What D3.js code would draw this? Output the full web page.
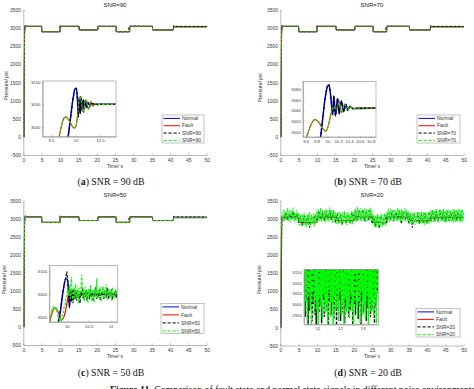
<!DOCTYPE html>
<html>
<head>
<meta charset="utf-8">
<script src="https://cdn.jsdelivr.net/npm/d3@7"></script>
<style>
  body { margin: 0; background: #fff; }
  svg { display: block; }
</style>
</head>
<body>
<svg id="fig" width="474" height="389"></svg>
<script>
// ---------------- data (time in s, pressure in psi) ----------------
const mainXTicks = [0, 5, 10, 15, 20, 25, 30, 35, 40, 45, 50];
const mainYTicks = [-500, 0, 500, 1000, 1500, 2000, 2500, 3000, 3500];

// step profile seen in the large plots
const stepTime    = [0.2, 0.25, 0.35, 0.5, 0.9, 5.0, 5.05, 10.0, 10.05, 15.2, 15.25, 20.3, 20.35, 25.3, 25.35, 29.0, 29.05, 35.2, 35.25, 40.9, 40.95, 50];
const normalStep  = [0, 1500, 2900, 3075, 3050, 3050, 2900, 2900, 3050, 3050, 2950, 2950, 3050, 3050, 2900, 2900, 3050, 3050, 2950, 2950, 3045, 3045];
const faultStep   = [0, 1500, 2900, 3075, 3050, 3050, 2900, 2900, 3050, 3050, 2950, 2950, 3050, 3050, 2900, 2900, 3050, 3050, 2950, 2950, 3028, 3028];
const snrGreenStep = [0, 1500, 2900, 3075, 3050, 3050, 2900, 2900, 3050, 3050, 2950, 2950, 3050, 3050, 2900, 2900, 3050, 3050, 2950, 2950, 3028, 3028];
const snrStepTime  = [0.2, 0.25, 0.35, 0.5, 0.9, 5.0, 5.05, 10.0, 10.02, 10.08, 10.2, 15.2, 15.25, 20.3, 20.35, 25.3, 25.35, 28.7, 28.75, 29.1, 29.15, 35.2, 35.25, 40.9, 40.95, 41.15, 41.3, 50];
const snrBlackStep = [0, 1500, 2900, 3075, 3050, 3050, 2900, 2900, 3090, 3030, 3050, 3050, 2950, 2950, 3050, 3050, 2900, 2900, 3010, 3010, 3060, 3050, 2950, 2950, 3070, 3060, 3048, 3048];

// SNR=20 large plot, sampled every 0.25 s (green) and 0.5 s (black)
const snr20GreenStart = 0, snr20GreenStep = 0.25;
const snr20Green = [
  0,2650,3170,2950,3260,2920,3200,2970,3290,2940,3220,2900,3240,2980,3310,2930,3180,2890,3250,2960,
  3150,2820,3120,2790,3130,2840,3160,2810,3100,2760,3140,2830,3180,2800,3110,2850,3150,2780,3130,2860,
  3270,2920,3230,2950,3300,2910,3250,2960,3220,2900,3280,2940,3240,2920,3310,2970,3230,2890,3260,2950,
  3190,2860,3170,2840,3200,2870,3150,2820,3180,2880,3210,2850,3160,2830,3190,2890,3140,2860,3220,2840,
  3190,2950,3280,2920,3330,2960,3260,2930,3300,2940,3240,2970,3290,2910,3270,2950,3250,2930,3310,2960,
  3220,2840,3110,2760,3100,2790,3140,2740,3080,2810,3130,2770,3120,2820,3160,2800,3190,2940,3260,2920,
  3290,2950,3240,2910,3280,2960,3230,2930,3300,2940,3250,2900,3270,2960,3220,2920,3290,2950,3250,2930,
  3200,2860,3180,2850,3150,2880,3190,2830,3170,2870,3200,2840,3160,2890,3210,2860,3180,2830,3190,2870,
  3170,2850,3200,2880,3240,2910,3250,2920,3230,2900,3270,2930,3220,2890,3260,2940,3240,2910,3280,2920,
  3230,2900,3250,2950,3260,2910,3240,2930,3270,2900,3230,2920,3250,2910,3280,2940,3240,2900,3260,2930,
  3220];
const snr20BlackStart = 0, snr20BlackStep = 0.5;
const snr20Black = [
  0,3050,2980,3180,2950,3150,3000,3200,2960,3170,
  2900,3050,2800,3080,2850,3100,2760,3060,2860,3110,
  2960,3230,2980,3180,2930,3210,2990,3240,2950,3190,
  2880,3140,2900,3120,2850,3160,2890,3130,2870,3170,
  2980,3250,2960,3220,2990,3260,2940,3210,2970,3240,
  2860,3060,2780,3090,2740,3070,2820,3110,2900,3200,
  2970,3220,2940,3190,2990,3230,2860,3210,2970,3180,
  2880,3150,2760,3140,2890,3170,2860,3120,2900,3160,
  2870,3190,2940,3230,2950,3200,2920,3240,2960,3210,
  2930,3220,2950,3190,2970,3250,2940,3200,2960,3230,
  3180];

// inset (a) SNR=90
const insetANormT  = [9.33, 9.75, 9.85, 9.9, 9.95, 9.99, 10.02, 10.04, 10.06, 10.08, 10.1, 10.12, 10.14, 10.16, 10.18, 10.2, 10.23, 10.26, 10.3, 10.34, 10.4, 10.83];
const insetANorm   = [2900, 2930, 2978, 3020, 3062, 3084, 3086, 3062, 3022, 3066, 3030, 3064, 3036, 3060, 3040, 3057, 3043, 3054, 3047, 3052, 3050, 3050];
const insetAFaultT = [9.33, 9.6, 9.68, 9.74, 9.8, 9.86, 9.92, 9.97, 10.01, 10.05, 10.08, 10.11, 10.14, 10.17, 10.2, 10.23, 10.26, 10.29, 10.32, 10.36, 10.4, 10.45, 10.5, 10.83];
const insetAFault  = [2900, 2940, 2985, 3013, 3022, 3016, 3004, 2997, 3001, 3032, 3062, 3068, 3040, 3032, 3060, 3058, 3040, 3044, 3056, 3046, 3052, 3049, 3050, 3050];

// inset (b) SNR=70
const insetBNormT  = [9.55, 9.8, 9.876, 9.92, 9.96, 10.0, 10.03, 10.06, 10.1, 10.12, 10.15, 10.19, 10.22, 10.26, 10.3, 10.34, 10.38, 10.42, 10.47, 10.9];
const insetBNorm   = [2900, 2950, 2991, 3030, 3064, 3085, 3089, 3070, 3032, 3068, 3030, 3063, 3034, 3058, 3038, 3052, 3041, 3048, 3044, 3045];
const insetBFaultT = [9.55, 9.63, 9.7, 9.77, 9.84, 9.9, 9.97, 10.02, 10.07, 10.12, 10.17, 10.22, 10.26, 10.32, 10.37, 10.42, 10.47, 10.55, 10.9];
const insetBFault  = [2975, 2994, 3014, 3023, 3018, 3008, 3001, 3012, 3035, 3048, 3042, 3058, 3036, 3052, 3040, 3048, 3043, 3045, 3045];

// inset (c) SNR=50
const insetCNormT  = [9.6, 9.8, 9.85, 9.92, 9.98, 10.02, 10.06, 10.08, 10.11, 10.14, 10.18, 10.22, 10.27, 10.32, 10.4, 11.15];
const insetCNorm   = [2900, 2985, 3010, 3060, 3085, 3080, 3020, 3060, 3035, 3058, 3042, 3054, 3046, 3051, 3049, 3050];
const insetCFaultT = [9.6, 9.65, 9.73, 9.8, 9.88, 9.95, 10.02, 10.07, 10.12, 10.17, 10.22, 10.27, 10.33, 10.4, 10.5, 11.15];
const insetCFault  = [2985, 3005, 3020, 3012, 2994, 3005, 3040, 3062, 3045, 3040, 3055, 3045, 3052, 3048, 3050, 3050];
const insetCNoiseStart = 9.6, insetCNoiseStep = 0.02;
const insetCBlack = [
  2900,2906,2913,2921,2930,2940,2950,2958,2967,2976,
  2986,2996,3007,3021,3036,3049,3062,3072,3081,3090,
  3100,3078,3048,3022,3060,3034,3058,3030,3062,3040,
  3055,3035,3060,3042,3050,3030,3058,3046,3064,3038,
  3052,3044,3060,3036,3056,3048,3040,3062,3045,3053,
  3034,3058,3047,3065,3040,3052,3044,3060,3036,3055,
  3048,3062,3038,3050,3057,3042,3064,3046,3040,3056,
  3045,3060,3038,3052,3047,3058,3041,3050];
const insetCGreen = [
  2984,2997,3004,3016,3015,3024,3019,3023,3012,3013,
  3001,3000,2990,2996,2992,3006,3007,3024,3026,3044,
  3046,3062,3048,3070,3040,3088,3050,3034,3066,3042,
  3072,3038,3058,3030,3064,3046,3056,3092,3040,3060,
  3034,3066,3045,3058,3030,3062,3048,3070,3036,3055,
  3060,3032,3064,3044,3085,3040,3058,3050,3066,3034,
  3052,3068,3040,3060,3046,3072,3038,3056,3062,3044,
  3058,3036,3066,3048,3054,3040,3062,3050];

// inset (d) SNR=20
const insetDNormT  = [10.4, 13.69];
const insetDNorm   = [3050, 3050];
const insetDFault  = [3050, 3050];
const insetDNoiseStart = 10.4, insetDNoiseStep = 0.03;
const insetDGreen = [
  3210,2960,3280,3010,3190,2920,3250,3040,3300,2980,
  3170,2900,3230,3060,3270,2950,3200,3020,3310,2970,
  3180,2890,3240,3030,3290,2990,3160,2930,3260,3050,
  3220,2960,3300,3000,3190,2910,3250,3070,3280,2940,
  3210,3010,3170,2880,3240,3040,3320,2970,3200,2990,
  3260,2920,3180,3060,3290,2950,3230,3000,3150,2900,
  3270,3030,3210,2960,3300,2980,3190,2930,3250,3050,
  3280,2970,3160,2890,3230,3020,3310,2990,3200,2940,
  3260,3010,3180,2910,3240,3060,3290,2950,3220,3000,
  3170,2930,3270,3040,3200,2880,3250,2990,3300,2960,
  3210,3020,3180,2940,3260,3000,3230,2910,3190,3050];
const insetDBlack = [
  2990,3230,2940,3270,3010,3180,2900,3250,2970,3300,
  3030,3160,2920,3240,3000,3290,2950,3200,2880,3260,
  3040,3190,2960,3310,2990,3170,2910,3230,3020,3280,
  2940,3210,3060,3250,2970,3190,2890,3270,3010,3220,
  2950,3300,3000,3180,2930,3240,3050,3200,2900,3260,
  2980,3230,3020,3170,2920,3290,2960,3210,3040,3250,
  2910,3190,2990,3280,3030,3160,2940,3240,2970,3300,
  3010,3200,2880,3260,3000,3220,2950,3180,3060,3270,
  2930,3250,2990,3190,2900,3230,3020,3300,2960,3210,
  3040,3170,2920,3280,2980,3240,3000,3200,2940,3260,
  2970,3190,3030,3250,2910,3220,2990,3180,3050,3230];

const legendA = ["Normal", "Fault", "SNR=90", "SNR=90"];
const legendB = ["Normal", "Fault", "SNR=70", "SNR=70"];
const legendC = ["Normal", "Fault", "SNR=50", "SNR=50"];
const legendD = ["Normal", "Fault", "SNR=20", "SNR=20"];

// ---------------- drawing ----------------
const svg = d3.select("#fig");
const SANS = "'Liberation Sans', Arial, sans-serif";
const SERIF = "'Liberation Serif', 'Times New Roman', serif";
const axisColor = "#8a8a8a";

const grid = (t0, dt, n) => d3.range(n).map(i => +(t0 + i * dt).toFixed(4));
const fmt = d => String(+d.toFixed(2));

function styleAxis(sel, fs) {
  sel.attr("font-family", SANS).attr("font-size", fs);
  sel.select(".domain").attr("stroke", axisColor).attr("stroke-width", 0.6);
  sel.selectAll(".tick line").attr("stroke", axisColor).attr("stroke-width", 0.5);
  sel.selectAll(".tick text").attr("fill", "#3a3a3a");
}

const styles = [
  { color: "#0000ff", dash: null },
  { color: "#ff0000", dash: null },
  { color: "#000000", dash: "2.6,1.6" },
  { color: "#00ff00", dash: "2.6,1.6" }
];

let clipCount = 0;
function drawLines(g, x, y, series, widths, box, dashes) {
  const id = "clip" + (clipCount++);
  g.append("clipPath").attr("id", id).append("rect")
    .attr("x", box[0]).attr("y", box[1]).attr("width", box[2] - box[0]).attr("height", box[3] - box[1]);
  const lg = g.append("g").attr("clip-path", `url(#${id})`);
  series.forEach((s, i) => {
    const pts = s.v.map((v, k) => [s.t[k], v]);
    lg.append("path").datum(pts)
      .attr("fill", "none")
      .attr("stroke", styles[i].color)
      .attr("stroke-width", widths[i])
      .attr("stroke-dasharray", dashes ? dashes[i] : styles[i].dash)
      .attr("d", d3.line().x(d => x(d[0])).y(d => y(d[1])).curve(s.smooth ? d3.curveMonotoneX : d3.curveLinear));
  });
}

const panels = [
  {
    title: "SNR=90", letter: "a", cap: " SNR = 90 dB",
    m: { x0: 23.3, x1: 206.7, y0: 10, y1: 155 }, titleY: 7.2, ylab: [7.6, 86], capY: 185,
    ins: { x0: 42.7, x1: 116, y0: 81, y1: 136.7, xd: [9.33, 10.83], yd: [2978, 3102], xt: [9.5, 10, 10.5], yt: [3000, 3050, 3100] },
    leg: { x: 162, y: 115, w: 42, h: 28 }, labels: legendA,
    mainW: [0.9, 0.9, 0.9, 0.9], insW: [1.5, 1.2, 1.1, 1.1],
    main: [
      { t: stepTime, v: normalStep }, { t: stepTime, v: faultStep },
      { t: snrStepTime, v: snrBlackStep }, { t: stepTime, v: snrGreenStep }],
    inset: [
      { t: insetANormT, v: insetANorm, smooth: true }, { t: insetAFaultT, v: insetAFault, smooth: true },
      { t: insetANormT, v: insetANorm, smooth: true }, { t: insetAFaultT, v: insetAFault, smooth: true }]
  },
  {
    title: "SNR=70", letter: "b", cap: " SNR = 70 dB",
    m: { x0: 280.3, x1: 463.7, y0: 10, y1: 155 }, titleY: 7.2, ylab: [262, 88], capY: 185,
    ins: { x0: 303, x1: 376, y0: 81.5, y1: 137, xd: [9.55, 10.9], yd: [2990, 3095], xt: [9.6, 9.8, 10, 10.2, 10.4, 10.6, 10.8], yt: [3000, 3020, 3040, 3060, 3080] },
    leg: { x: 417, y: 115, w: 43, h: 28 }, labels: legendB,
    mainW: [0.9, 0.9, 0.9, 0.9], insW: [1.5, 1.2, 1.1, 1.1],
    main: [
      { t: stepTime, v: normalStep }, { t: stepTime, v: faultStep },
      { t: snrStepTime, v: snrBlackStep }, { t: stepTime, v: snrGreenStep }],
    inset: [
      { t: insetBNormT, v: insetBNorm, smooth: true }, { t: insetBFaultT, v: insetBFault, smooth: true },
      { t: insetBNormT, v: insetBNorm, smooth: true }, { t: insetBFaultT, v: insetBFault, smooth: true }]
  },
  {
    title: "SNR=50", letter: "c", cap: " SNR = 50 dB",
    m: { x0: 23.3, x1: 206.7, y0: 200.7, y1: 345 }, titleY: 197.2, ylab: [6.2, 280], capY: 376,
    ins: { x0: 49.3, x1: 117.3, y0: 265.5, y1: 322, xd: [9.6, 11.15], yd: [2989, 3113], xt: [10, 10.5, 11], yt: [3000, 3050, 3100] },
    leg: { x: 161, y: 303.5, w: 43, h: 30 }, labels: legendC,
    mainW: [0.9, 0.9, 0.9, 1.1], insW: [1.5, 1.2, 1.1, 1.2],
    main: [
      { t: stepTime, v: normalStep }, { t: stepTime, v: faultStep },
      { t: snrStepTime, v: snrBlackStep }, { t: stepTime, v: snrGreenStep }],
    inset: [
      { t: insetCNormT, v: insetCNorm, smooth: true }, { t: insetCFaultT, v: insetCFault, smooth: true },
      { t: grid(insetCNoiseStart, insetCNoiseStep, insetCBlack.length), v: insetCBlack },
      { t: grid(insetCNoiseStart, insetCNoiseStep, insetCGreen.length), v: insetCGreen }]
  },
  {
    title: "SNR=20", letter: "d", cap: " SNR = 20 dB",
    m: { x0: 280.3, x1: 463.7, y0: 200.7, y1: 345.5 }, titleY: 197.2, ylab: [260.6, 280], capY: 376,
    ins: { x0: 304, x1: 378.3, y0: 269.5, y1: 324.5, xd: [10.4, 13.69], yd: [2904, 3163], xt: [11, 12, 13], yt: [2950, 3000, 3050, 3100, 3150] },
    leg: { x: 416, y: 308.5, w: 44, h: 28.5 }, labels: legendD,
    mainW: [0.9, 0.9, 0.9, 1.1], insW: [1, 1, 1.4, 1.5], insDash: [null, null, "3,1.6", "4,1.6"],
    main: [
      { t: stepTime, v: normalStep }, { t: stepTime, v: faultStep },
      { t: grid(snr20BlackStart, snr20BlackStep, snr20Black.length), v: snr20Black },
      { t: grid(snr20GreenStart, snr20GreenStep, snr20Green.length), v: snr20Green }],
    inset: [
      { t: insetDNormT, v: insetDNorm }, { t: insetDNormT, v: insetDFault },
      { t: grid(insetDNoiseStart, insetDNoiseStep, insetDBlack.length), v: insetDBlack },
      { t: grid(insetDNoiseStart, insetDNoiseStep, insetDGreen.length), v: insetDGreen }]
  }
];

panels.forEach(p => {
  const g = svg.append("g");
  const x = d3.scaleLinear().domain([0, 50]).range([p.m.x0, p.m.x1]);
  const y = d3.scaleLinear().domain([-500, 3500]).range([p.m.y1, p.m.y0]);

  // main axes (box off, ticks inward)
  const xa = g.append("g").attr("transform", `translate(0,${p.m.y1})`)
    .call(d3.axisBottom(x).tickValues(mainXTicks).tickFormat(d => String(d)).tickSizeInner(-1.8).tickSizeOuter(0).tickPadding(3.3));
  styleAxis(xa, 5);
  const ya = g.append("g").attr("transform", `translate(${p.m.x0},0)`)
    .call(d3.axisLeft(y).tickValues(mainYTicks).tickFormat(d => String(d)).tickSizeInner(-1.8).tickSizeOuter(0).tickPadding(2.3));
  styleAxis(ya, 5);

  drawLines(g, x, y, p.main, p.mainW, [p.m.x0, p.m.y0 - 5, p.m.x1 + 2, p.m.y1]);

  // titles and labels
  const cx = (p.m.x0 + p.m.x1) / 2;
  g.append("text").attr("x", cx).attr("y", p.titleY).attr("text-anchor", "middle")
    .attr("font-family", SANS).attr("font-size", 6).attr("fill", "#222").text(p.title);
  g.append("text").attr("x", cx).attr("y", p.m.y1 + 12.6).attr("text-anchor", "middle")
    .attr("font-family", SANS).attr("font-size", 5).attr("fill", "#333").text("Time/ s");
  g.append("text").attr("transform", `translate(${p.ylab[0]},${p.ylab[1]}) rotate(-90)`)
    .attr("text-anchor", "middle").attr("font-family", SANS).attr("font-size", 5).attr("fill", "#333")
    .text("Pressure/ psi");

  // inset
  const b = p.ins;
  const ix = d3.scaleLinear().domain(b.xd).range([b.x0, b.x1]);
  const iy = d3.scaleLinear().domain(b.yd).range([b.y1, b.y0]);
  g.append("rect").attr("x", b.x0).attr("y", b.y0).attr("width", b.x1 - b.x0).attr("height", b.y1 - b.y0)
    .attr("fill", "#fff");
  drawLines(g, ix, iy, p.inset, p.insW, [b.x0, b.y0, b.x1, b.y1], p.insDash);
  const ixa = g.append("g").attr("transform", `translate(0,${b.y1})`)
    .call(d3.axisBottom(ix).tickValues(b.xt).tickFormat(fmt).tickSizeInner(-1.5).tickSizeOuter(0).tickPadding(2.6));
  styleAxis(ixa, 4.3);
  const iya = g.append("g").attr("transform", `translate(${b.x0},0)`)
    .call(d3.axisLeft(iy).tickValues(b.yt).tickFormat(fmt).tickSizeInner(-1.5).tickSizeOuter(0).tickPadding(2.2));
  styleAxis(iya, 4.3);
  g.append("rect").attr("x", b.x0).attr("y", b.y0).attr("width", b.x1 - b.x0).attr("height", b.y1 - b.y0)
    .attr("fill", "none").attr("stroke", "#9a9a9a").attr("stroke-width", 0.7);

  // legend
  const L = p.leg;
  const lg = g.append("g").attr("transform", `translate(${L.x},${L.y})`);
  lg.append("rect").attr("width", L.w).attr("height", L.h).attr("fill", "#fff")
    .attr("stroke", "#9a9a9a").attr("stroke-width", 0.6);
  const rowGap = (L.h - 6) / 3;
  p.labels.forEach((lab, i) => {
    const ry = 3.4 + i * rowGap;
    lg.append("line").attr("x1", 1.5).attr("x2", 18).attr("y1", ry).attr("y2", ry)
      .attr("stroke", styles[i].color).attr("stroke-width", 1)
      .attr("stroke-dasharray", styles[i].dash ? "3.2,1.8" : null);
    lg.append("text").attr("x", 20).attr("y", ry + 1.7).attr("font-family", SANS)
      .attr("font-size", 5).attr("fill", "#333").text(lab);
  });

  // caption
  const cap = svg.append("text").attr("x", cx - 4).attr("y", p.capY).attr("text-anchor", "middle")
    .attr("font-family", SERIF).attr("font-size", 9.8).attr("fill", "#111");
  cap.append("tspan").text("(");
  cap.append("tspan").attr("font-weight", "bold").text(p.letter);
  cap.append("tspan").text(")" + p.cap);
});

// figure caption, cut by the bottom edge as in the source page
const fc = svg.append("text").attr("x", 110).attr("y", 392.5)
  .attr("font-family", SERIF).attr("font-size", 9.8).attr("fill", "#111");
fc.append("tspan").attr("font-weight", "bold").text("Figure 11.");
fc.append("tspan").text(" Comparison of fault state and normal state signals in different noise environments.");
</script>
</body>
</html>
